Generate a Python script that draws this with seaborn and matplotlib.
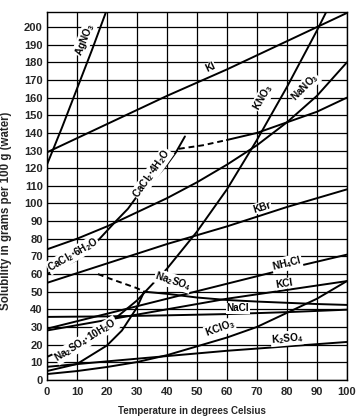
import pandas as pd
import seaborn as sns
import matplotlib.pyplot as plt

# Solubility curves (g per 100 g water)
agno3_t = [0, 5, 10, 15, 20]
agno3_s = [122, 143, 165, 187, 210]

ki_t = [0, 20, 40, 60, 80, 100]
ki_s = [129, 145, 161, 176, 192, 208]

kno3_t = [0, 10, 20, 30, 40, 50, 60, 70, 80, 90, 100]
kno3_s = [13, 21, 31, 45, 63, 84, 108, 136, 166, 198, 232]

nano3_t = [0, 10, 20, 30, 40, 50, 60, 70, 80, 90, 100]
nano3_s = [74, 80, 87, 95, 103, 112, 122, 133, 146, 161, 180]

cacl2_6_t = [0, 10, 17, 23, 27, 30]
cacl2_6_s = [60, 68, 79, 90, 97, 104]

cacl2_4_t = [30, 35, 40, 43, 46]
cacl2_4_s = [104, 112, 122, 129, 138]

cacl2_dash_t = [44, 52, 60]
cacl2_dash_s = [131, 133, 136]

cacl2_2_t = [60, 70, 80, 90, 100]
cacl2_2_s = [136, 140, 146, 152, 160]

kbr_t = [0, 20, 40, 60, 80, 100]
kbr_s = [55, 66, 77, 87, 98, 108]

nh4cl_t = [0, 20, 40, 60, 80, 100]
nh4cl_s = [29, 37.5, 46, 54.5, 63, 71]

kcl_t = [0, 20, 40, 60, 80, 100]
kcl_s = [28, 34, 40, 46, 51, 56]

nacl_t = [0, 20, 40, 60, 80, 100]
nacl_s = [35.7, 36, 36.6, 37.3, 38.4, 39.8]

kclo3_t = [0, 10, 20, 30, 40, 50, 60, 70, 80, 90, 100]
kclo3_s = [3.3, 5, 7.3, 10.1, 14, 19, 24, 30, 38, 46, 56]

k2so4_t = [0, 20, 40, 60, 80, 100]
k2so4_s = [7.4, 10.5, 13.5, 16.5, 19, 21.5]

na2so4_10_t = [0, 10, 20, 25, 30, 32.4]
na2so4_10_s = [5, 9, 19.5, 28, 41, 50]

na2so4_dash_t = [17, 20, 25, 30, 32.4]
na2so4_dash_s = [60, 58, 55, 52, 50]

na2so4_t = [32.4, 40, 50, 60, 70, 80, 90, 100]
na2so4_s = [50, 48.8, 46.7, 45.3, 44.4, 43.7, 43, 42.5]

solid = [
    (agno3_t, agno3_s), (ki_t, ki_s), (kno3_t, kno3_s), (nano3_t, nano3_s),
    (cacl2_6_t, cacl2_6_s), (cacl2_4_t, cacl2_4_s), (cacl2_2_t, cacl2_2_s),
    (kbr_t, kbr_s), (nh4cl_t, nh4cl_s), (kcl_t, kcl_s), (nacl_t, nacl_s),
    (kclo3_t, kclo3_s), (k2so4_t, k2so4_s), (na2so4_10_t, na2so4_10_s),
    (na2so4_t, na2so4_s),
]
dashed = [(cacl2_dash_t, cacl2_dash_s), (na2so4_dash_t, na2so4_dash_s)]

# label text, x, y, rotation
labels = [
    ("AgNO$_3$", 12.5, 193, 68),
    ("KI", 54.5, 177, 25),
    ("KNO$_3$", 72, 160, 60),
    ("NaNO$_3$", 86, 166, 45),
    ("CaCl$_2$·4H$_2$O", 35, 117, 55),
    ("CaCl$_2$·6H$_2$O", 8.7, 71, 30),
    ("KBr", 71.7, 98, 17),
    ("NH$_4$Cl", 80, 66, 14),
    ("KCl", 79, 54.5, 9),
    ("NaCl", 63.7, 40.5, 0),
    ("KClO$_3$", 57.7, 29, 20),
    ("K$_2$SO$_4$", 80, 23.5, 5),
    ("Na$_2$SO$_4$", 42, 56, -18),
    ("Na$_2$SO$_4$·10H$_2$O", 13, 22.5, 32),
]

sns.set_style("white")
plt.rcParams['font.family'] = ['Liberation Sans', 'DejaVu Sans']
plt.rcParams['mathtext.fontset'] = 'custom'
plt.rcParams['mathtext.rm'] = 'Liberation Sans:bold'
plt.rcParams['mathtext.it'] = 'Liberation Sans:bold'
plt.rcParams['mathtext.bf'] = 'Liberation Sans:bold'

fig = plt.figure(figsize=(3.64, 4.17), dpi=100)
ax = fig.add_axes([0.129, 0.089, 0.824, 0.882])

for t, s in solid:
    sns.lineplot(x=t, y=s, ax=ax, color="black", linewidth=1.4)
for t, s in dashed:
    sns.lineplot(x=t, y=s, ax=ax, color="black", linewidth=1.4, linestyle=(0, (3, 2)))

for txt, x, y, rot in labels:
    ax.text(x, y, txt, rotation=rot, rotation_mode="anchor", ha="center", va="center",
            fontsize=7.2, fontweight="bold", color="black", zorder=5,
            bbox=dict(facecolor="white", edgecolor="none", pad=0.3))

ax.set_xlim(0, 100)
ax.set_ylim(0, 208.5)
ax.set_xticks(range(0, 101, 10))
ax.set_yticks(range(0, 201, 10))
ax.grid(True, color="black", linewidth=0.9)
ax.set_axisbelow(True)
ax.tick_params(length=0, labelsize=8, pad=3)
ax.tick_params(axis="x", pad=5)
for lab in ax.get_xticklabels() + ax.get_yticklabels():
    lab.set_fontweight("bold")
for sp in ax.spines.values():
    sp.set_color("black")
    sp.set_linewidth(1.0)

ax.set_xlabel("Temperature in degrees Celsius", fontsize=7, fontweight="bold")
ax.set_ylabel("Solubility in grams per 100 g (water)", fontsize=8.3, fontweight="bold")
ax.xaxis.set_label_coords(0.483, -0.07)
ax.yaxis.set_label_coords(-0.115, 0.46)

fig.savefig("out.png", dpi=100)
